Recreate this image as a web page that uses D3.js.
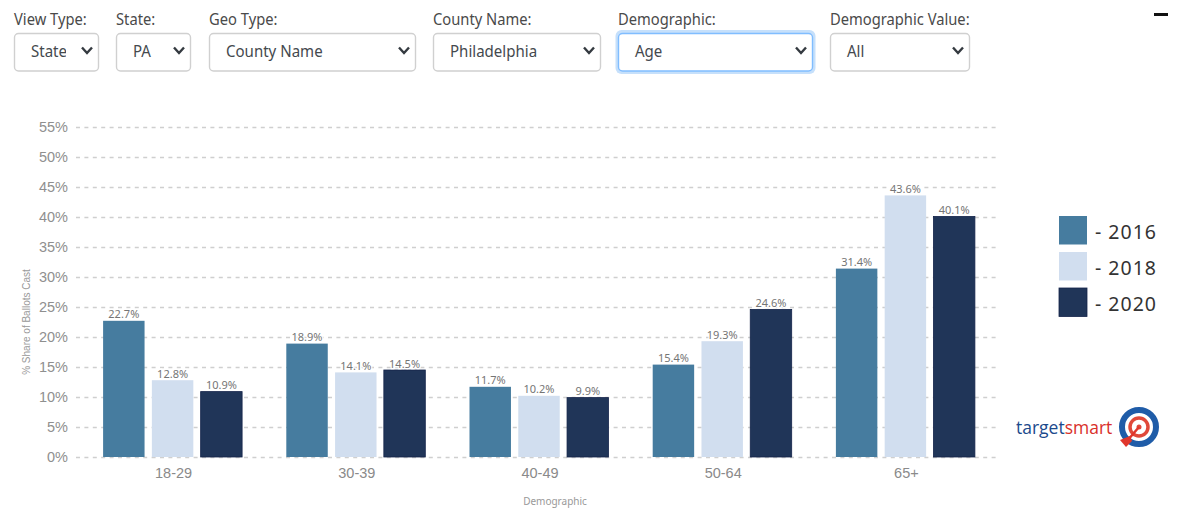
<!DOCTYPE html>
<html>
<head>
<meta charset="utf-8">
<script src="https://cdn.jsdelivr.net/npm/d3@7/dist/d3.min.js"></script>
<style>
html,body{margin:0;padding:0;background:#fff;}
svg{display:block;}
</style>
</head>
<body>
<svg id="chart" width="1186" height="522"></svg>
<script>
// Turnout share by age group, Philadelphia County
const categories = ["18-29", "30-39", "40-49", "50-64", "65+"];
const years = ["2016", "2018", "2020"];
const values2016 = [22.7, 18.9, 11.7, 15.4, 31.4];
const values2018 = [12.8, 14.1, 10.2, 19.3, 43.6];
const values2020 = [10.9, 14.5, 9.9, 24.6, 40.1];
const yTicks = [0, 5, 10, 15, 20, 25, 30, 35, 40, 45, 50, 55];
const filterLabels = ["View Type:", "State:", "Geo Type:", "County Name:", "Demographic:", "Demographic Value:"];
const filterValues = ["State", "PA", "County Name", "Philadelphia", "Age", "All"];

const seriesByYear = {"2016": values2016, "2018": values2018, "2020": values2020};
const colors = d3.scaleOrdinal().domain(years).range(["#467c9f", "#d1deef", "#203558"]);

const svg = d3.select("#chart");
const uiFont = "'Noto Sans', sans-serif";
const axisFont = "'Liberation Sans', Arial, sans-serif";

// Squeeze a text run horizontally so the UI labels read as a condensed face
function condense(sel, factor) {
  sel.each(function () {
    this.setAttribute("textLength", this.getComputedTextLength() * factor);
    this.setAttribute("lengthAdjust", "spacingAndGlyphs");
  });
}

// Filter bar
const filterBoxes = [
  {x: 14, w: 85}, {x: 116, w: 75}, {x: 209, w: 207},
  {x: 433, w: 168}, {x: 618, w: 195, focus: true}, {x: 830, w: 140}
];
const filters = svg.append("g").selectAll("g")
  .data(filterBoxes.map((b, i) => ({...b, label: filterLabels[i], value: filterValues[i]})))
  .join("g").attr("transform", d => `translate(${d.x},0)`);

filters.append("text").attr("x", 0).attr("y", 25)
  .attr("font-family", uiFont).attr("font-size", 16).attr("fill", "#4a4a4a")
  .text(d => d.label)
  .call(condense, 0.92);

filters.filter(d => d.focus).append("rect")
  .attr("x", -2.5).attr("y", 30).attr("width", d => d.w + 5).attr("height", 44).attr("rx", 6)
  .attr("fill", "#c6e0fb");
filters.append("rect")
  .attr("x", 0.5).attr("y", 33.5).attr("width", d => d.w - 1).attr("height", 37.5).attr("rx", 4)
  .attr("fill", "#fff")
  .attr("stroke", d => d.focus ? "#80bdff" : "#d0d0d0").attr("stroke-width", 1.4);

// The narrow first select cuts its value off before the arrow
svg.append("clipPath").attr("id", "viewTypeClip").append("rect")
  .attr("x", 0).attr("y", 33).attr("width", 52).attr("height", 38);
filters.append("text")
  .attr("x", 17).attr("y", 57)
  .attr("clip-path", d => d.value === "State" ? "url(#viewTypeClip)" : null)
  .attr("font-family", uiFont).attr("font-size", 16).attr("fill", "#44494e")
  .text(d => d.value)
  .call(condense, 0.94);
filters.append("path")
  .attr("d", d => `M${d.w - 17},47.5 l5,5.5 l5,-5.5`)
  .attr("fill", "none").attr("stroke", "#343a40").attr("stroke-width", 2.4);

svg.append("rect").attr("x", 1154).attr("y", 13).attr("width", 14).attr("height", 3).attr("fill", "#111");

// Chart scales
const x0 = d3.scaleBand().domain(categories).range([81, 997]);
const x1 = d3.scaleBand().domain(years).range([0, 139]).paddingInner(0.15);
const y = d3.scaleLinear().domain([0, 55]).range([457, 127]);

// Gridlines and value axis
const yAxis = svg.append("g").attr("transform", "translate(76,0)")
  .call(d3.axisLeft(y).tickValues(yTicks).tickSize(0).tickPadding(8).tickFormat(d => d + "%"));
yAxis.select(".domain").remove();
yAxis.selectAll("text").attr("font-family", axisFont).attr("font-size", 14.5).attr("fill", "#8f8f8f");
yAxis.selectAll(".tick").append("line")
  .attr("x1", 0).attr("x2", 922)
  .attr("stroke", "#cfcfcf").attr("stroke-width", 1.3).attr("stroke-dasharray", "4 4.4");

// Category axis
const xAxis = svg.append("g").attr("transform", "translate(1,457)")
  .call(d3.axisBottom(x0).tickSize(0).tickPadding(11));
xAxis.select(".domain").remove();
xAxis.selectAll("text").attr("font-family", axisFont).attr("font-size", 14.5).attr("fill", "#8a8a8a");

// Grouped bars with value labels
const rows = categories.flatMap((c, i) => years.map(yr => ({cat: c, year: yr, value: seriesByYear[yr][i]})));
const barLeft = d => x0(d.cat) + (x0.bandwidth() - 139) / 2 + x1(d.year);

svg.append("g").selectAll("rect").data(rows).join("rect")
  .attr("x", barLeft).attr("y", d => y(d.value))
  .attr("width", x1.bandwidth()).attr("height", d => y(0) - y(d.value))
  .attr("fill", d => colors(d.year))
  .attr("stroke", d => d.year === "2020" ? "#14244a" : "none").attr("stroke-width", 0.8);

svg.append("g").selectAll("text").data(rows).join("text")
  .attr("x", d => barLeft(d) + x1.bandwidth() / 2).attr("y", d => y(d.value) - 2.5)
  .attr("text-anchor", "middle")
  .attr("font-family", uiFont).attr("font-size", 11).attr("fill", "#757575")
  .attr("stroke", "#fff").attr("stroke-width", 2.5).attr("paint-order", "stroke")
  .text(d => d.value.toFixed(1) + "%");

// Axis titles
svg.append("text").attr("transform", "translate(30,322) rotate(-90)").attr("text-anchor", "middle")
  .attr("font-family", axisFont).attr("font-size", 10).attr("fill", "#999").text("% Share of Ballots Cast");
svg.append("text").attr("x", 555).attr("y", 505).attr("text-anchor", "middle")
  .attr("font-family", uiFont).attr("font-size", 10).attr("fill", "#999").text("Demographic");

// Legend
const legend = svg.append("g").selectAll("g").data(years).join("g")
  .attr("transform", (d, i) => `translate(1059,${216 + i * 36})`);
legend.append("rect").attr("width", 28).attr("height", 28.5).attr("fill", d => colors(d))
  .attr("stroke", d => d === "2020" ? "#14244a" : "none").attr("stroke-width", 0.8);
legend.append("text").attr("x", 36).attr("y", 22.5)
  .attr("font-family", uiFont).attr("font-size", 19.5).attr("letter-spacing", 1).attr("fill", "#333")
  .text(d => "- " + d);

// Brand mark
const brand = svg.append("g");
const word = brand.append("text").attr("x", 1016).attr("y", 434)
  .attr("font-family", "'Open Sans', sans-serif").attr("font-size", 17.5).attr("font-weight", 500);
word.append("tspan").attr("fill", "#1c4a8c").text("target");
word.append("tspan").attr("fill", "#d9302a").text("smart");
brand.append("circle").attr("cx", 1139).attr("cy", 427).attr("r", 17).attr("fill", "#fff").attr("stroke", "#1f5ca8").attr("stroke-width", 6);
brand.append("circle").attr("cx", 1139).attr("cy", 427).attr("r", 9).attr("fill", "#fff").attr("stroke", "#e0493a").attr("stroke-width", 3.5);
brand.append("circle").attr("cx", 1139).attr("cy", 427).attr("r", 2.5).attr("fill", "#e0493a");
brand.append("line").attr("x1", 1127).attr("y1", 441).attr("x2", 1139).attr("y2", 427).attr("stroke", "#e0362c").attr("stroke-width", 2.5);
brand.append("path").attr("d", "M1120,440 L1130,436 L1132,441 L1126,447 Z").attr("fill", "#e0362c");
</script>
</body>
</html>
